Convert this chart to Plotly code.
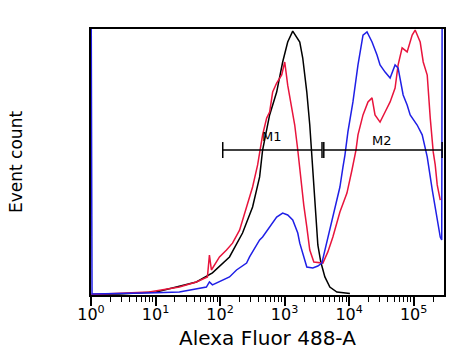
import numpy as np
import plotly.graph_objects as go

# log10(fluorescence) positions and event counts (normalized, % of max scale)
black_log = [0.0, 0.435, 1.011, 1.633, 1.882, 2.146, 2.348, 2.504, 2.613, 2.659, 2.768, 2.877,
             2.970, 3.048, 3.126, 3.235, 3.281, 3.344, 3.390, 3.421, 3.453, 3.484, 3.515, 3.561,
             3.624, 3.701, 3.810, 4.012]
black_cnt = [0.2, 0.4, 1.1, 4.9, 8.3, 14.3, 23.3, 33.1, 44.4, 54.5, 67.7, 76.3,
             87.6, 95.1, 99.2, 95.1, 89.1, 76.3, 63.9, 51.5, 41.4, 30.1, 18.8, 12.4,
             6.8, 3.0, 1.1, 0.6]

red_px_x = [92, 118, 150, 180, 197, 208, 210, 212, 220, 227, 233, 240, 247, 253, 258, 263, 267,
            270, 273, 277, 282, 285, 288, 292, 295, 298, 301, 304, 307, 310, 314, 323, 328, 333,
            340, 347, 352, 356, 358, 363, 368, 372, 375, 380, 385, 390, 395, 398, 402, 407, 412,
            415, 420, 423, 427, 428, 430, 433, 435, 437, 440]
red_px_y = [294.5, 293.5, 292, 287, 282, 277, 255, 270, 257, 250, 243, 230, 207, 187, 165, 135, 118,
            112, 92, 83, 75, 62, 85, 108, 125, 150, 180, 205, 227, 250, 262, 263, 252, 237,
            212, 193, 170, 150, 135, 115, 102, 98, 115, 122, 112, 102, 88, 65, 48, 52, 35,
            30, 42, 62, 75, 92, 118, 152, 165, 185, 200]
red_log = [round((p - 92) / 64.3, 3) for p in red_px_x]
red_cnt = [round((295 - p) / 2.66, 1) for p in red_px_y]

blue_px_x = [92, 93, 157, 180, 207, 210, 213, 230, 237, 247, 250, 260, 263, 270, 277, 283, 288, 293,
             298, 300, 303, 307, 313, 318, 322, 325, 330, 335, 340, 343, 345, 348, 353, 358, 363,
             367, 372, 377, 380, 385, 390, 395, 398, 403, 407, 410, 417, 422, 427, 432, 437, 440,
             441.5, 442]
blue_px_y = [-60, 294, 293, 292, 287, 282, 285, 277, 270, 263, 257, 240, 237, 227, 217, 213, 215, 220,
             233, 243, 253, 267, 268, 266, 263, 250, 230, 210, 187, 167, 155, 132, 102, 65, 35,
             32, 42, 55, 65, 72, 78, 65, 68, 95, 105, 115, 125, 135, 157, 190, 220, 237,
             240, -60]
blue_log = [round((p - 92) / 64.3, 3) for p in blue_px_x]
blue_cnt = [round((295 - p) / 2.66, 1) for p in blue_px_y]

# marker gates
gate_names = ["M1", "M2"]
gate_lo = [110, 4050]
gate_hi = [3800, 276000]
gate_level = 54.5
gate_label_x = [630, 32000]
gate_label_y = [59.5, 58.0]

tick_vals = [1, 10, 100, 1000, 10000, 100000]
tick_text = ["10<sup>0</sup>", "10<sup>1</sup>", "10<sup>2</sup>", "10<sup>3</sup>",
             "10<sup>4</sup>", "10<sup>5</sup>"]
minor_vals = [m * 10 ** k for k in range(0, 6) for m in range(2, 10) if m * 10 ** k < 300000]

fig = go.Figure()
fig.add_trace(go.Scatter(x=np.power(10.0, black_log), y=black_cnt, mode="lines",
                         line=dict(color="#000000", width=1.5), showlegend=False))
fig.add_trace(go.Scatter(x=np.power(10.0, red_log), y=red_cnt, mode="lines",
                         line=dict(color="#e8143c", width=1.5), showlegend=False))
fig.add_trace(go.Scatter(x=np.power(10.0, blue_log), y=blue_cnt, mode="lines",
                         line=dict(color="#1f1fe6", width=1.5), showlegend=False))

gx, gy = [], []
for lo, hi in zip(gate_lo, gate_hi):
    gx += [lo, lo, None, lo, hi, None, hi, hi, None]
    gy += [gate_level - 3, gate_level + 3, None, gate_level, gate_level, None,
           gate_level - 3, gate_level + 3, None]
fig.add_trace(go.Scatter(x=gx, y=gy, mode="lines", line=dict(color="#000000", width=1.5),
                         showlegend=False))

for name, lx, ly in zip(gate_names, gate_label_x, gate_label_y):
    fig.add_annotation(x=np.log10(lx), y=ly, text=name, showarrow=False,
                       font=dict(family="DejaVu Sans", size=13, color="#000000"))

fig.add_annotation(xref="paper", yref="paper", x=0.5, y=-0.163, text="Alexa Fluor 488-A",
                   showarrow=False, yanchor="middle", xanchor="center",
                   font=dict(family="DejaVu Sans", size=20, color="#000000"))
fig.add_annotation(xref="paper", yref="paper", x=(16 - 91) / 353, y=0.5, text="Event count",
                   showarrow=False, textangle=-90, xanchor="center", yanchor="middle",
                   font=dict(family="DejaVu Sans", size=17, color="#000000"))

fig.update_xaxes(type="log", range=[0, 5.47], tickmode="array", tickvals=tick_vals,
                 ticktext=tick_text, ticks="outside", ticklen=9, tickwidth=1.5, tickcolor="#000",
                 ticklabelstandoff=-5,
                 showline=True, linecolor="#000", linewidth=2, mirror=True, showgrid=False,
                 zeroline=False, tickfont=dict(family="DejaVu Sans", size=16, color="#000"),
                 minor=dict(tickmode="array", tickvals=minor_vals, ticks="outside", ticklen=5,
                            tickwidth=1.2, tickcolor="#000", showgrid=False))
fig.update_yaxes(range=[0, 100], showticklabels=False, ticks="", showline=True, linecolor="#000",
                 linewidth=2, mirror=True, showgrid=False, zeroline=False)

fig.update_layout(width=474, height=351, margin=dict(l=91, r=30, t=29, b=56),
                  plot_bgcolor="white", paper_bgcolor="white")

fig.write_html("out.html")
